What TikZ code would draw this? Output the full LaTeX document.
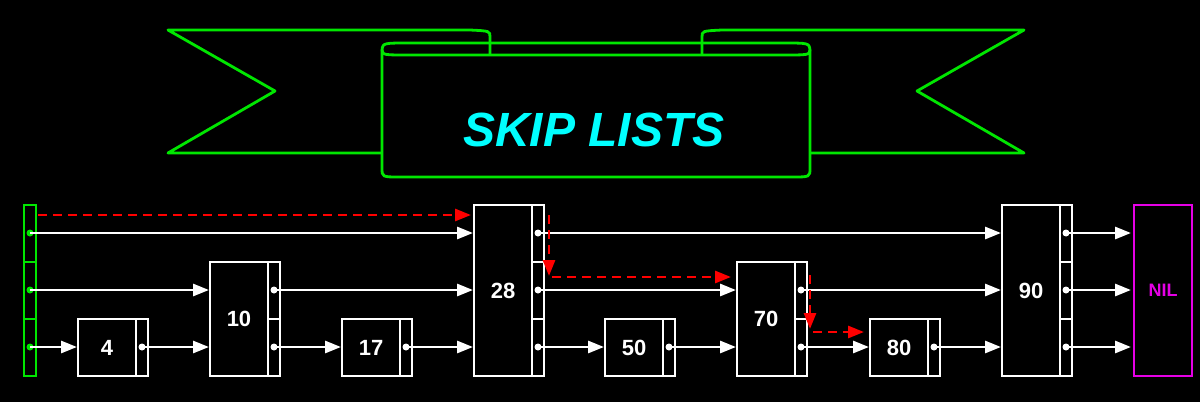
\documentclass[tikz,border=0pt]{standalone}
\usepackage{fontspec}
\setmainfont{Liberation Sans}
\newfontfamily\bsans{Liberation Sans Bold}
\newfontfamily\bisans{Liberation Sans Bold Italic}
\usetikzlibrary{arrows.meta}
\definecolor{G}{RGB}{0,230,0}
\definecolor{C}{RGB}{0,255,255}
\definecolor{M}{RGB}{230,0,230}
\begin{document}
\begin{tikzpicture}[x=1pt,y=-1pt,
  ln/.style={white,line width=2.8pt},
  ptr/.style={white,line width=2.8pt,-{Triangle[length=16pt,width=12pt]}},
  rd/.style={red,line width=2.8pt,dash pattern=on 9pt off 6pt,-{Triangle[length=16pt,width=12pt]}},
  gr/.style={G,line width=2.8pt},
  dot/.style={circle,fill,inner sep=0pt,minimum size=7pt},
  lbl/.style={white,font=\bsans\fontsize{22}{22}\selectfont}]
\fill[black] (0,0) rectangle (1200,402);
\useasboundingbox (0,0) rectangle (1200,402);
% banner
\draw[gr,line join=round] (382,153) -- (168,153) -- (275,91) -- (168,30) -- (470,30) .. controls (490,31) .. (490,37) -- (490,55);
\draw[gr,line join=round] (810,153) -- (1024,153) -- (917,91) -- (1024,30) -- (722,30) .. controls (702,31) .. (702,37) -- (702,55);
\draw[gr] (382,50) .. controls (383,43) .. (410,43) -- (782,43) .. controls (809,43) .. (810,50);
\draw[gr] (382,50) .. controls (383,55) .. (410,55) -- (782,55) .. controls (809,55) .. (810,50);
\draw[gr] (382,50) -- (382,168) .. controls (382,177) .. (400,177) -- (792,177) .. controls (810,177) .. (810,168) -- (810,50);
\node[C,font=\bisans\fontsize{48}{48}\selectfont] (title) at (594,130) {SKIP LISTS};
% header
\draw[gr] (24,205) rectangle (36,376);
\draw[gr] (24,262) -- (36,262) (24,319) -- (36,319);
\foreach \y/\n in {233/h3,290/h2,347/h1} \node[dot,G] (\n) at (30,\y) {};
\newcommand{\sknode}[4]{%
  \draw[ln] (#2,#3) rectangle (#2+70,376);
  \draw[ln] (#2+58,#3) -- (#2+58,376);
  \node[lbl] (#1) at (#2+29,{(#3+376)/2}) {#4};
}
\sknode{n4}{78}{319}{4}
\sknode{n10}{210}{262}{10}
\sknode{n17}{342}{319}{17}
\sknode{n28}{474}{205}{28}
\sknode{n50}{605}{319}{50}
\sknode{n70}{737}{262}{70}
\sknode{n80}{870}{319}{80}
\sknode{n90}{1002}{205}{90}
\foreach \x in {210,737} \draw[ln] (\x+58,319) -- (\x+70,319);
\foreach \x in {474,1002} \draw[ln] (\x+58,262) -- (\x+70,262) (\x+58,319) -- (\x+70,319);
\node[dot,white] (d4) at (142,347) {};
\node[dot,white] (d10b) at (274,347) {};
\node[dot,white] (d10m) at (274,290) {};
\node[dot,white] (d17) at (406,347) {};
\node[dot,white] (d28b) at (538,347) {};
\node[dot,white] (d28m) at (538,290) {};
\node[dot,white] (d28t) at (538,233) {};
\node[dot,white] (d50) at (669,347) {};
\node[dot,white] (d70b) at (801,347) {};
\node[dot,white] (d70m) at (801,290) {};
\node[dot,white] (d80) at (934,347) {};
\node[dot,white] (d90b) at (1066,347) {};
\node[dot,white] (d90m) at (1066,290) {};
\node[dot,white] (d90t) at (1066,233) {};
\draw[M,line width=2.8pt] (1134,205) rectangle (1192,376);
\node[M,font=\bsans\fontsize{18}{18}\selectfont] (nil) at (1163,290) {NIL};
\draw[ptr] (h1.center) -- (77,347);
\draw[ptr] (h2.center) -- (209,290);
\draw[ptr] (h3.center) -- (473,233);
\draw[ptr] (d4.center) -- (209,347);
\draw[ptr] (d10b.center) -- (341,347);
\draw[ptr] (d10m.center) -- (473,290);
\draw[ptr] (d17.center) -- (473,347);
\draw[ptr] (d28b.center) -- (604,347);
\draw[ptr] (d28m.center) -- (736,290);
\draw[ptr] (d28t.center) -- (1001,233);
\draw[ptr] (d50.center) -- (736,347);
\draw[ptr] (d70b.center) -- (869,347);
\draw[ptr] (d70m.center) -- (1001,290);
\draw[ptr] (d80.center) -- (1001,347);
\foreach \n/\y in {d90t/233,d90m/290,d90b/347} \draw[ptr] (\n.center) -- (1131,\y);
\coordinate (s0) at (38,215);
\coordinate (s1) at (471,215);
\coordinate (s2) at (549,215);
\coordinate (s3) at (549,276);
\coordinate (s4) at (552,277);
\coordinate (s5) at (731,277);
\coordinate (s6) at (810,275);
\coordinate (s7) at (810,329);
\coordinate (s8) at (813,332);
\coordinate (s9) at (864,332);
\draw[rd] (s0) -- (s1);
\draw[rd] (s2) -- (s3);
\draw[rd] (s4) -- (s5);
\draw[rd] (s6) -- (s7);
\draw[rd] (s8) -- (s9);
\end{tikzpicture}
\end{document}
